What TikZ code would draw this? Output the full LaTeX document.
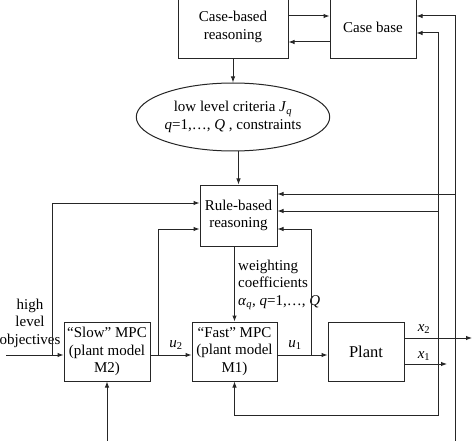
\documentclass[tikz,border=0pt]{standalone}
\usepackage{fontspec}
\setmainfont{Liberation Serif}
\usetikzlibrary{arrows.meta,shapes.geometric}
\begin{document}
\begin{tikzpicture}[x=1pt,y=-1pt,
  every node/.style={font=\fontsize{15}{17.5}\selectfont, inner sep=0pt},
  blk/.style={draw=black!85, line width=1pt, align=center},
  ln/.style={line width=1pt, draw=black!85},
  arr/.style={ln, -{Latex[length=6pt,width=4.5pt]}},
  darr/.style={ln, {Latex[length=6pt,width=4.5pt]}-{Latex[length=6pt,width=4.5pt]}}]
\useasboundingbox (0,0) rectangle (474,441);
\clip (0,0) rectangle (474,441);
\fill[white] (0,0) rectangle (474,441);

\node[blk, minimum width=110pt, minimum height=64pt] (cbr) at (233,27) {Case-based\\reasoning};
\node[blk, minimum width=86pt, minimum height=64pt] (cb) at (373,27) {Case base};
\node[blk, ellipse, minimum width=178pt, minimum height=68pt] (ell) at (233,117) {low level criteria \textit{J}\textsubscript{\textit{q}}\\\textit{q}=1,…, \textit{Q} , constraints};
\node[blk, minimum width=77pt, minimum height=61pt] (rbr) at (238.5,215.5) {Rule-based\\reasoning};
\node[blk, minimum width=86pt, minimum height=59pt] (slow) at (107,351.5) {“Slow” MPC\\(plant model\\M2)};
\node[blk, minimum width=85pt, minimum height=59pt] (fast) at (234.5,351.5) {“Fast” MPC\\(plant model\\M1)};
\node[blk, minimum width=76pt, minimum height=59pt, font=\fontsize{16.5}{19}\selectfont] (plant) at (366,351.5) {Plant};

\node[align=center] (hlo) at (30,323) {high\\level\\objectives};
\node[align=left, anchor=west] (wc) at (238,284.5) {weighting\\coefficients\\\textit{α}\textsubscript{\textit{q}}, \textit{q}=1,…, \textit{Q}};
\node (u2) at (176,345) {\textit{u}\textsubscript{2}};
\node (u1) at (295,345) {\textit{u}\textsubscript{1}};
\node (x2) at (424,329) {\textit{x}\textsubscript{2}};
\node (x1) at (424,356) {\textit{x}\textsubscript{1}};

\coordinate (in) at (6,355);
\coordinate (out2) at (472,338);
\coordinate (out1) at (447,364);

% top
\draw[arr] (cbr.east |- 0,16) -- (cb.west |- 0,16);
\draw[arr] (cb.west |- 0,42) -- (cbr.east |- 0,42);
\draw[arr] (cbr.south) -- (ell.north);
\draw[arr] (ell.south -| rbr.north) -- (rbr.north);
\draw[arr] (rbr.south -| fast.north) -- (fast.north);

% main line
\draw[arr] (in) -- (slow.west |- in);
\draw[arr] (52,355) -- (52,203) -- (rbr.west |- 0,203);
\draw[arr] (slow.east |- in) -- (fast.west |- in);
\draw[arr] (158,355) -- (158,229) -- (rbr.west |- 0,229);
\draw[arr] (fast.east |- in) -- (plant.west |- in);
\draw[arr] (311,355) -- (311,229) -- (rbr.east |- 0,229);
\draw[arr] (plant.east |- out2) -- (out2);
\draw[arr] (plant.east |- out1) -- (out1);

% feedback
\draw[darr] (slow.south) -- (slow.south |- 0,445) -- (455,445) -- (455,16) -- (cb.east |- 0,16);
\draw[arr] (455,194) -- (rbr.east |- 0,194);
\draw[darr] (fast.south) -- (fast.south |- 0,415) -- (438,415) -- (438,33) -- (cb.east |- 0,33);
\draw[arr] (438,211) -- (rbr.east |- 0,211);
\end{tikzpicture}
\end{document}
